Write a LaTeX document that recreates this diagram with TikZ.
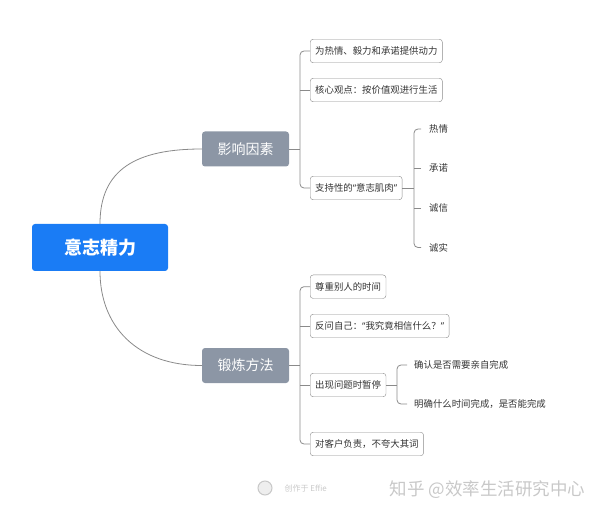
\documentclass[tikz,border=0pt]{standalone}
\usepackage{fontspec}
\setmainfont{Noto Sans CJK SC}
\newfontfamily\quotefont{Noto Sans}
\newcommand{\openq}{{\quotefont“}}
\newcommand{\closeq}{{\quotefont”}}
\usetikzlibrary{positioning}

\definecolor{rootblue}{HTML}{1A7CF5}
\definecolor{branchgray}{HTML}{8C96A5}
\definecolor{linegray}{HTML}{8A8A8A}
\definecolor{textgray}{HTML}{333333}
\definecolor{markgray}{HTML}{C8C8C8}

\tikzset{
	root/.style={fill=rootblue,text=white,rounded corners=3pt,minimum width=136pt,minimum height=47pt,font=\fontsize{18}{20}\selectfont\bfseries},
	branch/.style={fill=branchgray,text=white,rounded corners=3pt,minimum width=87pt,minimum height=35pt,font=\fontsize{14}{16}\selectfont},
	item/.style={draw=linegray,text=textgray,rounded corners=3pt,anchor=west,inner xsep=5pt,minimum height=23.5pt,font=\fontsize{9.4}{11}\selectfont},
	leaf/.style={text=textgray,anchor=west,inner xsep=8pt,font=\fontsize{9.4}{11}\selectfont},
	link/.style={draw=linegray,line width=0.8pt},
	bracket/.style={link,rounded corners=4pt}
}

\begin{document}
\begin{tikzpicture}[x=1pt,y=-1pt]
	\useasboundingbox (0,0) rectangle (600,513);
	
	% Root and branches
	\node[root] (will) at (100,247.5) {意志精力};
	\node[branch] (factor) at (245.5,149) {影响因素};
	\node[branch] (train) at (245.5,365.5) {锻炼方法};
	\draw[link] (will.north) .. controls +(0,-55) and +(-65,0) .. (factor.west);
	\draw[link] (will.south) .. controls +(0,55) and +(-65,0) .. (train.west);
	
	% Factors
	\node[item] (f1) at (310,51) {为热情、毅力和承诺提供动力};
	\node[item] (f2) at (310,90) {核心观点：按价值观进行生活};
	\node[item] (f3) at (310,188) {支持性的\openq 意志肌肉\closeq};
	\coordinate (fb) at (300,149);
	\draw[link] (factor.east) -- (fb);
	\draw[bracket] (f1.west) -| (fb) |- (f3.west);
	\draw[link] (f2.west) -- (f2.west -| fb);
	
	% Will muscles
	\node[leaf] (m1) at (421,129) {热情};
	\node[leaf] (m2) at (421,168) {承诺};
	\node[leaf] (m3) at (421,208) {诚信};
	\node[leaf] (m4) at (421,247.5) {诚实};
	\coordinate (mb) at (414,188);
	\draw[link] (f3.east) -- (mb);
	\draw[bracket] (m1.west) -| (mb) |- (m4.west);
	\foreach \m in {m2,m3}
		\draw[link] (\m.west) -- (\m.west -| mb);
	
	% Training
	\node[item] (t1) at (310,286.7) {尊重别人的时间};
	\node[item] (t2) at (310,326) {反问自己：\openq 我究竟相信什么？\closeq};
	\node[item] (t3) at (310,385) {出现问题时暂停};
	\node[item] (t4) at (310,444) {对客户负责，不夸大其词};
	\coordinate (tb) at (300,365.5);
	\draw[link] (train.east) -- (tb);
	\draw[bracket] (t1.west) -| (tb) |- (t4.west);
	\foreach \t in {t2,t3}
		\draw[link] (\t.west) -- (\t.west -| tb);
	
	% Pause
	\node[leaf,inner xsep=7pt] (p1) at (407,365) {确认是否需要亲自完成};
	\node[leaf,inner xsep=7pt] (p2) at (407,404) {明确什么时间完成，是否能完成};
	\coordinate (pb) at (397,385);
	\draw[link] (t3.east) -- (pb);
	\draw[bracket] (p1.west) -| (pb) |- (p2.west);
	
	% Watermark
	\draw[markgray,fill=markgray!30,line width=1pt] (265,488) circle (7);
	\node[text=markgray,anchor=west,font=\fontsize{8}{9}\selectfont] (maker) at (281,488) {创作于 Effie};
	\node[text=markgray,anchor=west,font=\fontsize{17.5}{20}\selectfont] (zhihu) at (386,490) {知乎 @效率生活研究中心};
	
\end{tikzpicture}
\end{document}
